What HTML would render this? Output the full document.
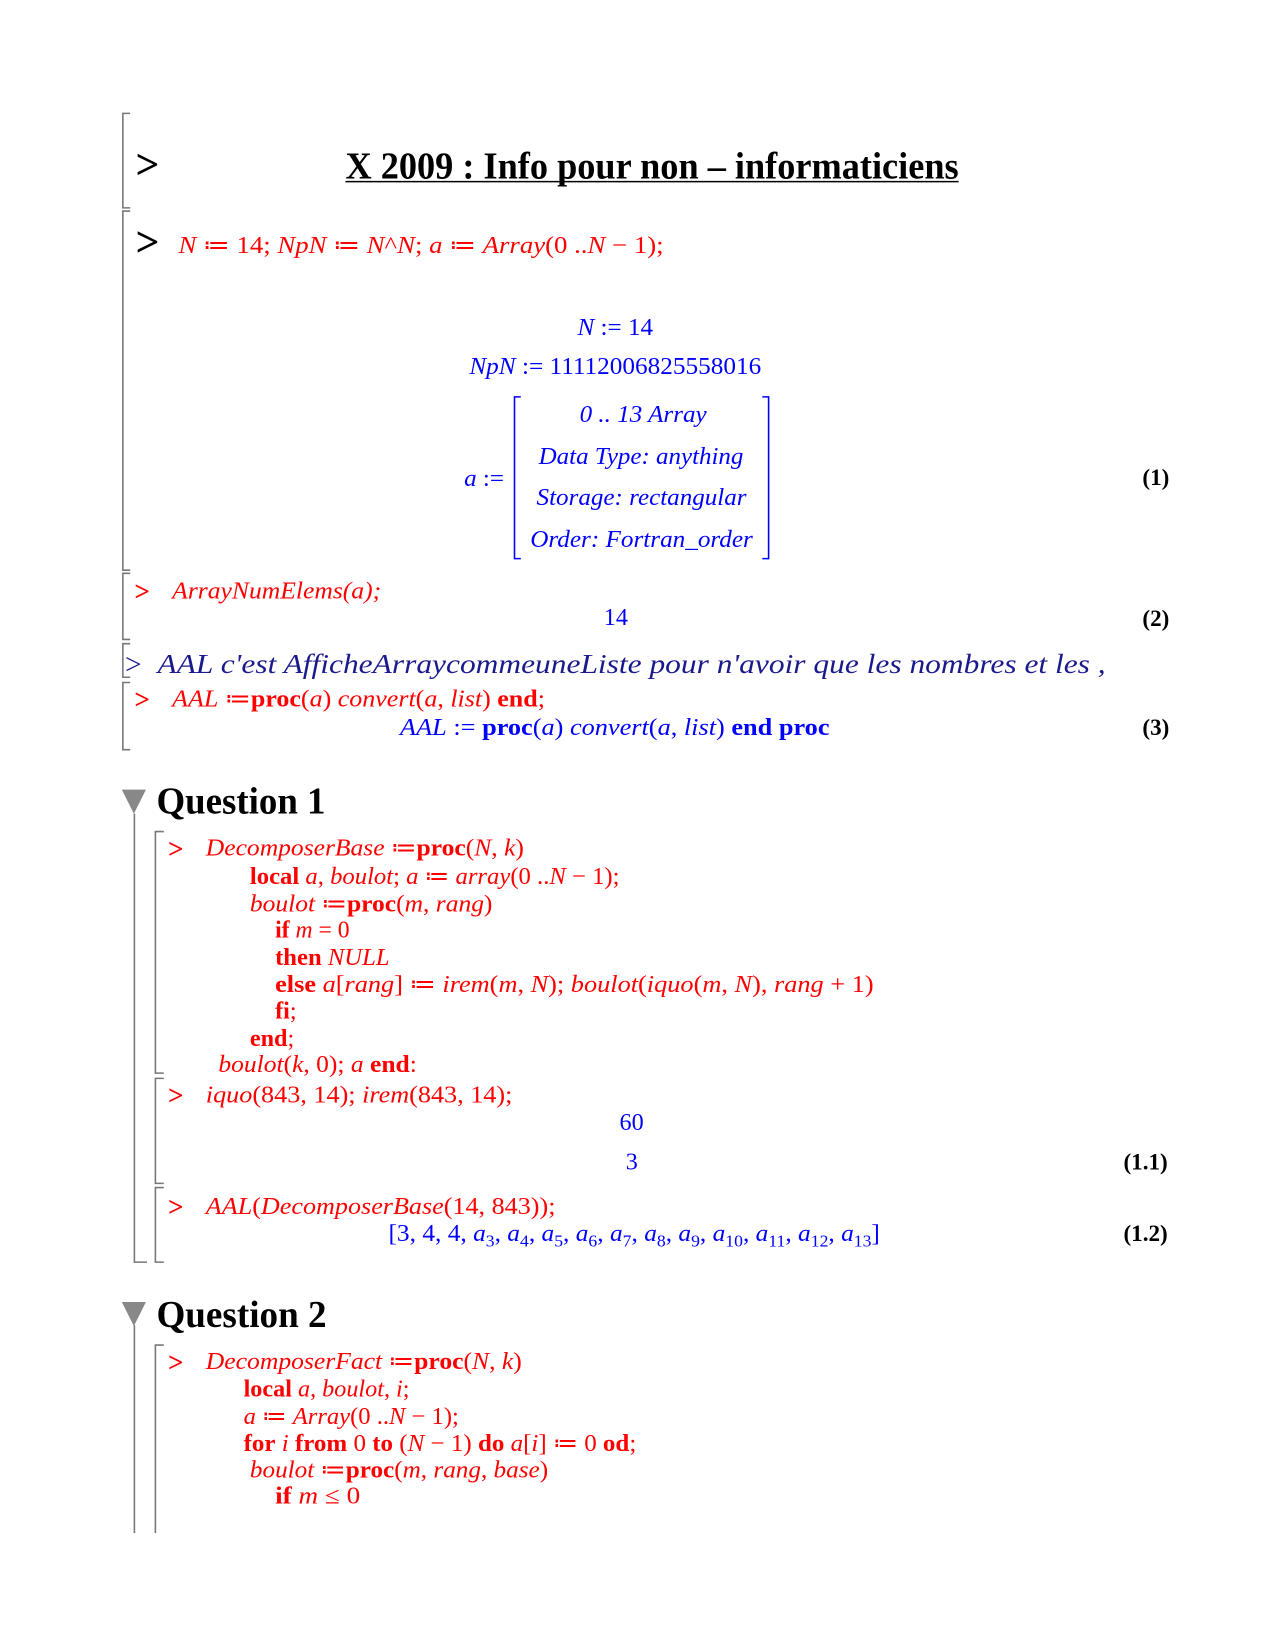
<!DOCTYPE html>
<html><head><meta charset="utf-8"><style>
html,body{margin:0;padding:0;background:#fff;}
svg{display:block;}
text{font-family:"Liberation Serif",serif;}
.r{fill:#ff0000;font-size:23px;}
.b{fill:#0000ff;font-size:23px;}
.i{font-style:italic;}
.bd{font-weight:bold;}
.k{fill:#000;}
</style></head><body>
<svg width="1275" height="1650" viewBox="0 0 1275 1650" xmlns="http://www.w3.org/2000/svg">
<g transform="scale(1.05)">
<g stroke="#777" stroke-width="1.5" fill="none">
<path d="M124 108 H117 V198 H124"/>
<path d="M124 201 H117 V543 H124"/>
<path d="M124 546 H117 V609 H124"/>
<path d="M124 613 H117 V645 H124"/>
<path d="M124 650 H117 V714 H124"/>
<path d="M128 775 V1202 H140"/>
<path d="M156 792 H148 V1022 H156"/>
<path d="M156 1027 H148 V1127 H156"/>
<path d="M156 1131 H148 V1202 H156"/>
<path d="M128 1262 V1460"/>
<path d="M156 1281 H148 V1460"/>
</g>
<polygon points="116,752 139,752 127.5,775" fill="#888"/>
<polygon points="116,1240 139,1240 127.5,1263" fill="#888"/>
<g font-family="Liberation Sans" font-weight="bold" class="k">
<text x="129" y="170" font-size="40">&gt;</text>
<text x="129" y="244" font-size="40">&gt;</text>
</g>
<g fill="#f00" font-family="Liberation Sans" font-weight="bold" font-size="26">
<text x="128" y="572">&gt;</text><text x="128" y="675">&gt;</text>
<text x="160" y="817">&gt;</text><text x="160" y="1052">&gt;</text>
<text x="160" y="1158">&gt;</text><text x="160" y="1306">&gt;</text>
</g>
<text x="119" y="642" font-size="28" font-family="Liberation Sans" fill="#1a1a8c">&gt;</text>
<text x="329" y="170" font-size="36" font-weight="bold" textLength="584" lengthAdjust="spacingAndGlyphs" class="k">X 2009 : Info pour non – informaticiens</text>
<line x1="329" y1="173" x2="913" y2="173" stroke="#000" stroke-width="1.5"/>
<text x="170" y="241" class="r" textLength="462" lengthAdjust="spacingAndGlyphs"><tspan class="i">N</tspan> ≔ 14; <tspan class="i">NpN</tspan> ≔ <tspan class="i">N</tspan>^<tspan class="i">N</tspan>;    <tspan class="i">a</tspan> ≔ <tspan class="i">Array</tspan>(0 ..<tspan class="i">N</tspan> − 1);</text>
<text x="550" y="319" class="b" textLength="72" lengthAdjust="spacingAndGlyphs"><tspan class="i">N</tspan> := 14</text>
<text x="447" y="356" class="b" textLength="278" lengthAdjust="spacingAndGlyphs"><tspan class="i">NpN</tspan> := 11112006825558016</text>
<text x="442" y="463" class="b" textLength="38" lengthAdjust="spacingAndGlyphs"><tspan class="i">a</tspan> :=</text>
<path d="M496 378 H490 V532 H496 M726 378 H732 V532 H726" stroke="#0000ff" stroke-width="1.5" fill="none"/>
<text x="552" y="402" class="b i" textLength="121" lengthAdjust="spacingAndGlyphs">0 .. 13 Array</text>
<text x="513" y="442" class="b i" textLength="195" lengthAdjust="spacingAndGlyphs">Data Type: anything</text>
<text x="511" y="481" class="b i" textLength="200" lengthAdjust="spacingAndGlyphs">Storage: rectangular</text>
<text x="505" y="521" class="b i" textLength="212" lengthAdjust="spacingAndGlyphs">Order: Fortran_order</text>
<g font-weight="bold" font-size="22" fill="#000">
<text x="1088" y="462">(1)</text>
<text x="1088" y="596">(2)</text>
<text x="1088" y="700">(3)</text>
<text x="1070" y="1114">(1.1)</text>
<text x="1070" y="1182">(1.2)</text>
</g>
<text x="164" y="570" class="r i" textLength="199" lengthAdjust="spacingAndGlyphs">ArrayNumElems(a);</text>
<text x="575" y="595" class="b" textLength="23" lengthAdjust="spacingAndGlyphs">14</text>
<text x="150" y="641" font-family="Liberation Sans" font-style="italic" font-size="26" fill="#1a1a8c" textLength="903" lengthAdjust="spacingAndGlyphs">AAL c'est AfficheArraycommeuneListe  pour n'avoir que les nombres et les ,</text>
<text x="164" y="673" class="r" textLength="355" lengthAdjust="spacingAndGlyphs"><tspan class="i">AAL</tspan> ≔<tspan class="bd">proc</tspan>(<tspan class="i">a</tspan>) <tspan class="i">convert</tspan>(<tspan class="i">a</tspan>, <tspan class="i">list</tspan>) <tspan class="bd">end</tspan>;</text>
<text x="381" y="700" class="b" textLength="409" lengthAdjust="spacingAndGlyphs"><tspan class="i">AAL</tspan> := <tspan class="bd">proc</tspan>(<tspan class="i">a</tspan>)  <tspan class="i">convert</tspan>(<tspan class="i">a</tspan>, <tspan class="i">list</tspan>)  <tspan class="bd">end proc</tspan></text>
<text x="149" y="775" font-size="36" font-weight="bold" class="k" textLength="161" lengthAdjust="spacingAndGlyphs">Question 1</text>
<text x="196" y="815" class="r" textLength="303" lengthAdjust="spacingAndGlyphs"><tspan class="i">DecomposerBase</tspan> ≔<tspan class="bd">proc</tspan>(<tspan class="i">N</tspan>, <tspan class="i">k</tspan>)</text>
<text x="238" y="842" class="r" textLength="352" lengthAdjust="spacingAndGlyphs"><tspan class="bd">local</tspan> <tspan class="i">a</tspan>, <tspan class="i">boulot</tspan>; <tspan class="i">a</tspan> ≔ <tspan class="i">array</tspan>(0 ..<tspan class="i">N</tspan> − 1);</text>
<text x="238" y="868" class="r" textLength="231" lengthAdjust="spacingAndGlyphs"><tspan class="i">boulot</tspan> ≔<tspan class="bd">proc</tspan>(<tspan class="i">m</tspan>, <tspan class="i">rang</tspan>)</text>
<text x="262" y="893" class="r" textLength="71" lengthAdjust="spacingAndGlyphs"><tspan class="bd">if</tspan> <tspan class="i">m</tspan> = 0</text>
<text x="262" y="919" class="r" textLength="109" lengthAdjust="spacingAndGlyphs"><tspan class="bd">then</tspan> <tspan class="i">NULL</tspan></text>
<text x="262" y="945" class="r" textLength="570" lengthAdjust="spacingAndGlyphs"><tspan class="bd">else</tspan> <tspan class="i">a</tspan>[<tspan class="i">rang</tspan>] ≔ <tspan class="i">irem</tspan>(<tspan class="i">m</tspan>, <tspan class="i">N</tspan>); <tspan class="i">boulot</tspan>(<tspan class="i">iquo</tspan>(<tspan class="i">m</tspan>, <tspan class="i">N</tspan>), <tspan class="i">rang</tspan> + 1)</text>
<text x="262" y="970" class="r"><tspan class="bd">fi</tspan>;</text>
<text x="238" y="996" class="r"><tspan class="bd">end</tspan>;</text>
<text x="208" y="1021" class="r" textLength="189" lengthAdjust="spacingAndGlyphs"><tspan class="i">boulot</tspan>(<tspan class="i">k</tspan>, 0); <tspan class="i">a</tspan> <tspan class="bd">end</tspan>:</text>
<text x="196" y="1050" class="r" textLength="292" lengthAdjust="spacingAndGlyphs"><tspan class="i">iquo</tspan>(843, 14); <tspan class="i">irem</tspan>(843, 14);</text>
<text x="590" y="1076" class="b" textLength="23" lengthAdjust="spacingAndGlyphs">60</text>
<text x="596" y="1114" class="b">3</text>
<text x="196" y="1156" class="r" textLength="333" lengthAdjust="spacingAndGlyphs"><tspan class="i">AAL</tspan>(<tspan class="i">DecomposerBase</tspan>(14, 843));</text>
<text x="370" y="1182" class="b" textLength="468" lengthAdjust="spacingAndGlyphs">[3, 4, 4, <tspan class="i">a</tspan><tspan font-size="16" dy="5">3</tspan><tspan dy="-5">, </tspan><tspan class="i">a</tspan><tspan font-size="16" dy="5">4</tspan><tspan dy="-5">, </tspan><tspan class="i">a</tspan><tspan font-size="16" dy="5">5</tspan><tspan dy="-5">, </tspan><tspan class="i">a</tspan><tspan font-size="16" dy="5">6</tspan><tspan dy="-5">, </tspan><tspan class="i">a</tspan><tspan font-size="16" dy="5">7</tspan><tspan dy="-5">, </tspan><tspan class="i">a</tspan><tspan font-size="16" dy="5">8</tspan><tspan dy="-5">, </tspan><tspan class="i">a</tspan><tspan font-size="16" dy="5">9</tspan><tspan dy="-5">, </tspan><tspan class="i">a</tspan><tspan font-size="16" dy="5">10</tspan><tspan dy="-5">, </tspan><tspan class="i">a</tspan><tspan font-size="16" dy="5">11</tspan><tspan dy="-5">, </tspan><tspan class="i">a</tspan><tspan font-size="16" dy="5">12</tspan><tspan dy="-5">, </tspan><tspan class="i">a</tspan><tspan font-size="16" dy="5">13</tspan><tspan dy="-5">]</tspan></text>
<text x="149" y="1264" font-size="36" font-weight="bold" class="k" textLength="162" lengthAdjust="spacingAndGlyphs">Question 2</text>
<text x="196" y="1304" class="r" textLength="301" lengthAdjust="spacingAndGlyphs"><tspan class="i">DecomposerFact</tspan> ≔<tspan class="bd">proc</tspan>(<tspan class="i">N</tspan>, <tspan class="i">k</tspan>)</text>
<text x="232" y="1330" class="r" textLength="158" lengthAdjust="spacingAndGlyphs"><tspan class="bd">local</tspan> <tspan class="i">a</tspan>, <tspan class="i">boulot</tspan>, <tspan class="i">i</tspan>;</text>
<text x="232" y="1356" class="r" textLength="205" lengthAdjust="spacingAndGlyphs"><tspan class="i">a</tspan> ≔ <tspan class="i">Array</tspan>(0 ..<tspan class="i">N</tspan> − 1);</text>
<text x="232" y="1382" class="r" textLength="374" lengthAdjust="spacingAndGlyphs"><tspan class="bd">for</tspan> <tspan class="i">i</tspan> <tspan class="bd">from</tspan> 0 <tspan class="bd">to</tspan> (<tspan class="i">N</tspan> − 1) <tspan class="bd">do</tspan> <tspan class="i">a</tspan>[<tspan class="i">i</tspan>] ≔ 0 <tspan class="bd">od</tspan>;</text>
<text x="238" y="1407" class="r" textLength="284" lengthAdjust="spacingAndGlyphs"><tspan class="i">boulot</tspan> ≔<tspan class="bd">proc</tspan>(<tspan class="i">m</tspan>, <tspan class="i">rang</tspan>, <tspan class="i">base</tspan>)</text>
<text x="262" y="1432" class="r" textLength="81" lengthAdjust="spacingAndGlyphs"><tspan class="bd">if</tspan> <tspan class="i">m</tspan> ≤ 0</text>
</g>
</svg>
</body></html>
